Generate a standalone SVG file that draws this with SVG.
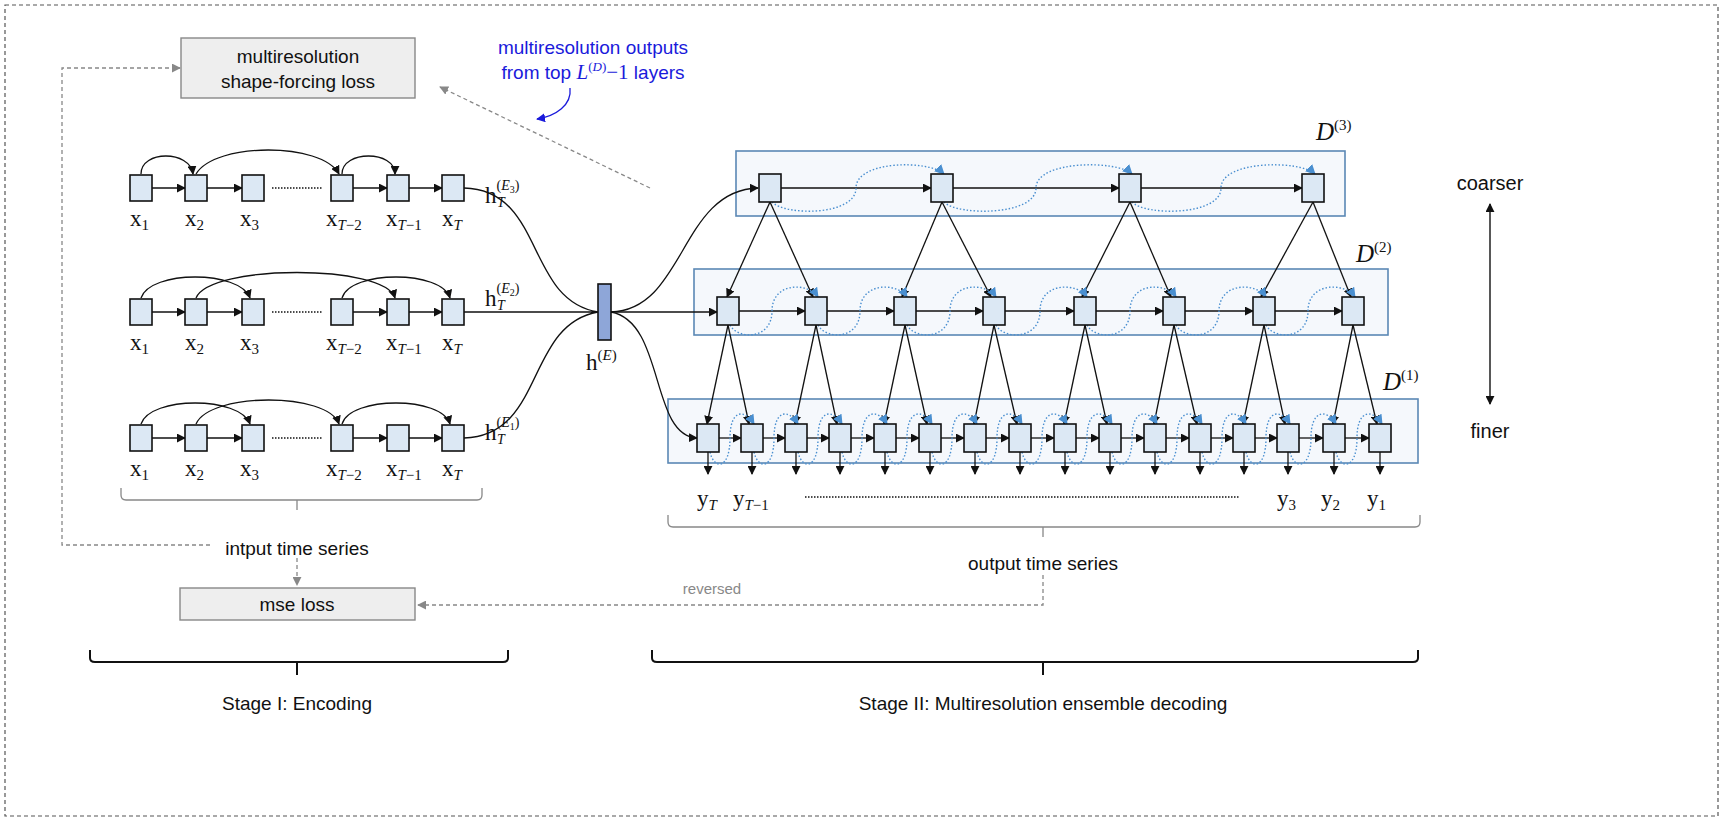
<svg xmlns="http://www.w3.org/2000/svg" width="1724" height="822" viewBox="0 0 1724 822">
<style>
.n{fill:#dce8f4;stroke:#111;stroke-width:1.6}
.c{fill:none;stroke:#111;stroke-width:1.3}
.cb{fill:none;stroke:#4a8fd0;stroke-width:1.4;stroke-dasharray:1.5 2}
.g{fill:none;stroke:#888;stroke-width:1.3;stroke-dasharray:4 3}
.lv{fill:#f5f8fc;stroke:#5b88b5;stroke-width:1.6}
.m{font-family:"Liberation Serif",serif;font-size:23px;fill:#111}
.s{font-family:"Liberation Sans",Arial,sans-serif;font-size:19px;fill:#111}
.sb{font-family:"Liberation Sans",Arial,sans-serif;font-size:19px;fill:#1a1adb}
.br{fill:none;stroke:#888;stroke-width:1.3}
.bk{fill:none;stroke:#111;stroke-width:2}
</style>
<defs>
<marker id="a" viewBox="0 0 10 10" refX="9" refY="5" markerWidth="9" markerHeight="9" markerUnits="userSpaceOnUse" orient="auto-start-reverse"><path d="M0,0L10,5L0,10z" fill="#111"/></marker>
<marker id="ab" viewBox="0 0 10 10" refX="9" refY="5" markerWidth="10" markerHeight="10" markerUnits="userSpaceOnUse" orient="auto"><path d="M0,0L10,5L0,10z" fill="#4a8fd0"/></marker>
<marker id="ag" viewBox="0 0 10 10" refX="9" refY="5" markerWidth="9" markerHeight="9" markerUnits="userSpaceOnUse" orient="auto"><path d="M0,0L10,5L0,10z" fill="#888"/></marker>
<marker id="au" viewBox="0 0 10 10" refX="9" refY="5" markerWidth="9" markerHeight="9" markerUnits="userSpaceOnUse" orient="auto"><path d="M0,0L10,5L0,10z" fill="#1a1adb"/></marker>
</defs>
<rect x="5" y="5" width="1713" height="811" fill="none" stroke="#555" stroke-width="1.2" stroke-dasharray="4 3"/>

<g id="loss1"><rect x="181" y="38" width="234" height="60" fill="#eee" stroke="#888" stroke-width="1.4"/>
<text class="s" x="298" y="63" text-anchor="middle">multiresolution</text>
<text class="s" x="298" y="88" text-anchor="middle">shape-forcing loss</text></g>
<g id="mse"><rect x="180" y="588" width="235" height="32" fill="#eee" stroke="#888" stroke-width="1.4"/>
<text class="s" x="297" y="611" text-anchor="middle">mse loss</text></g>
<g id="note"><text class="sb" x="593" y="54" text-anchor="middle">multiresolution outputs</text>
<text class="sb" x="593" y="79" text-anchor="middle">from top <tspan font-family="Liberation Serif" font-style="italic" font-size="21">L</tspan><tspan font-family="Liberation Serif" font-size="13" dy="-8">(<tspan font-style="italic">D</tspan>)</tspan><tspan font-family="Liberation Serif" font-size="21" dy="8">−1</tspan> layers</text></g>

<g id="levels">
<rect class="lv" x="736" y="151" width="609" height="65"/>
<rect class="lv" x="694" y="269" width="694" height="66"/>
<rect class="lv" x="668" y="399" width="750" height="64"/>
</g>

<g id="connectors">
<g id="enc-conn">
<path class="c" marker-end="url(#a)" d="M152,188H185"/><path class="c" marker-end="url(#a)" d="M207,188H242"/><path class="c" marker-end="url(#a)" d="M353,188H387"/><path class="c" marker-end="url(#a)" d="M409,188H442"/>
<path class="c" marker-end="url(#a)" d="M152,312H185"/><path class="c" marker-end="url(#a)" d="M207,312H242"/><path class="c" marker-end="url(#a)" d="M353,312H387"/><path class="c" marker-end="url(#a)" d="M409,312H442"/>
<path class="c" marker-end="url(#a)" d="M152,438H185"/><path class="c" marker-end="url(#a)" d="M207,438H242"/><path class="c" marker-end="url(#a)" d="M353,438H387"/><path class="c" marker-end="url(#a)" d="M409,438H442"/>
<path class="c" marker-end="url(#a)" d="M141,174C141,150 190,150 193,174"/>
<path class="c" marker-end="url(#a)" d="M196,174C215,142 322,142 339,174"/>
<path class="c" marker-end="url(#a)" d="M342,174C342,150 395,150 395,174"/>
<path class="c" marker-end="url(#a)" d="M141,298C150,270 240,270 250,298"/>
<path class="c" marker-end="url(#a)" d="M196,298C210,264 385,264 395,298"/>
<path class="c" marker-end="url(#a)" d="M342,298C350,270 442,270 450,298"/>
<path class="c" marker-end="url(#a)" d="M141,424C150,396 240,396 250,424"/>
<path class="c" marker-end="url(#a)" d="M196,424C210,392 328,392 339,424"/>
<path class="c" marker-end="url(#a)" d="M342,424C350,396 442,396 450,424"/>
<path d="M272,188H322M272,312H322M272,438H322" stroke="#111" stroke-width="1.6" stroke-dasharray="1.5 1.5"/>
<path class="c" d="M464,188C545,190 525,300 598,312M464,312H598M464,438C545,436 525,325 598,312"/>
<path class="c" marker-end="url(#a)" d="M611,312C685,310 680,190 758,188"/>
<path class="c" marker-end="url(#a)" d="M611,312H717"/>
<path class="c" marker-end="url(#a)" d="M611,312C665,322 650,436 697,438"/>
</g>
<g id="h3">
<path class="c" marker-end="url(#a)" stroke="#444" d="M781,188H931"/><path class="c" marker-end="url(#a)" stroke="#444" d="M953,188H1119"/><path class="c" marker-end="url(#a)" stroke="#444" d="M1141,188H1302"/>
</g>
<g id="h2">
<path class="c" marker-end="url(#a)" d="M739,311H805"/><path class="c" marker-end="url(#a)" d="M827,311H894"/><path class="c" marker-end="url(#a)" d="M916,311H983"/><path class="c" marker-end="url(#a)" d="M1005,311H1074"/><path class="c" marker-end="url(#a)" d="M1096,311H1163"/><path class="c" marker-end="url(#a)" d="M1185,311H1253"/><path class="c" marker-end="url(#a)" d="M1275,311H1342"/>
</g>
<g id="h1">
<path class="c" marker-end="url(#a)" d="M719,438H741"/><path class="c" marker-end="url(#a)" d="M763,438H785"/><path class="c" marker-end="url(#a)" d="M807,438H829"/><path class="c" marker-end="url(#a)" d="M851,438H874"/><path class="c" marker-end="url(#a)" d="M896,438H919"/><path class="c" marker-end="url(#a)" d="M941,438H964"/><path class="c" marker-end="url(#a)" d="M986,438H1009"/><path class="c" marker-end="url(#a)" d="M1031,438H1054"/><path class="c" marker-end="url(#a)" d="M1076,438H1099"/><path class="c" marker-end="url(#a)" d="M1121,438H1144"/><path class="c" marker-end="url(#a)" d="M1166,438H1189"/><path class="c" marker-end="url(#a)" d="M1211,438H1233"/><path class="c" marker-end="url(#a)" d="M1255,438H1277"/><path class="c" marker-end="url(#a)" d="M1299,438H1323"/><path class="c" marker-end="url(#a)" d="M1345,438H1369"/>
</g>
<g id="d32">
<path class="c" marker-end="url(#a)" d="M770,202L727,297"/><path class="c" marker-end="url(#a)" d="M770,202L813,297"/><path class="c" marker-end="url(#a)" d="M942,202L902,297"/><path class="c" marker-end="url(#a)" d="M942,202L991,297"/><path class="c" marker-end="url(#a)" d="M1130,202L1082,297"/><path class="c" marker-end="url(#a)" d="M1130,202L1171,297"/><path class="c" marker-end="url(#a)" d="M1313,202L1261,297"/><path class="c" marker-end="url(#a)" d="M1313,202L1351,297"/>
</g>
<g id="d21">
<path class="c" marker-end="url(#a)" d="M728,325L707,424"/><path class="c" marker-end="url(#a)" d="M728,325L749,424"/><path class="c" marker-end="url(#a)" d="M816,325L795,424"/><path class="c" marker-end="url(#a)" d="M816,325L837,424"/><path class="c" marker-end="url(#a)" d="M905,325L884,424"/><path class="c" marker-end="url(#a)" d="M905,325L927,424"/><path class="c" marker-end="url(#a)" d="M994,325L974,424"/><path class="c" marker-end="url(#a)" d="M994,325L1017,424"/><path class="c" marker-end="url(#a)" d="M1085,325L1064,424"/><path class="c" marker-end="url(#a)" d="M1085,325L1107,424"/><path class="c" marker-end="url(#a)" d="M1174,325L1154,424"/><path class="c" marker-end="url(#a)" d="M1174,325L1197,424"/><path class="c" marker-end="url(#a)" d="M1264,325L1243,424"/><path class="c" marker-end="url(#a)" d="M1264,325L1285,424"/><path class="c" marker-end="url(#a)" d="M1353,325L1333,424"/><path class="c" marker-end="url(#a)" d="M1353,325L1377,424"/>
</g>
<g id="outs">
<path class="c" marker-end="url(#a)" d="M708,452V474"/><path class="c" marker-end="url(#a)" d="M752,452V474"/><path class="c" marker-end="url(#a)" d="M796,452V474"/><path class="c" marker-end="url(#a)" d="M840,452V474"/><path class="c" marker-end="url(#a)" d="M885,452V474"/><path class="c" marker-end="url(#a)" d="M930,452V474"/><path class="c" marker-end="url(#a)" d="M975,452V474"/><path class="c" marker-end="url(#a)" d="M1020,452V474"/><path class="c" marker-end="url(#a)" d="M1065,452V474"/><path class="c" marker-end="url(#a)" d="M1110,452V474"/><path class="c" marker-end="url(#a)" d="M1155,452V474"/><path class="c" marker-end="url(#a)" d="M1200,452V474"/><path class="c" marker-end="url(#a)" d="M1244,452V474"/><path class="c" marker-end="url(#a)" d="M1288,452V474"/><path class="c" marker-end="url(#a)" d="M1334,452V474"/><path class="c" marker-end="url(#a)" d="M1380,452V474"/>
</g>
<g id="bl3">
<path class="cb" marker-end="url(#ab)" d="M772,202C785,216 856,216 856,188C856,160 930,160 944,174"/>
<path class="cb" marker-end="url(#ab)" d="M944,202C957,216 1036,216 1036,188C1036,160 1118,160 1132,174"/>
<path class="cb" marker-end="url(#ab)" d="M1132,202C1145,216 1221,216 1221,188C1221,160 1301,160 1315,174"/>
</g>
<g id="bl2">
<path class="cb" marker-end="url(#ab)" d="M730,325C738,340 772,340 772,311C772,282 808,282 818,297"/>
<path class="cb" marker-end="url(#ab)" d="M818,325C826,340 860,340 860,311C860,282 897,282 907,297"/>
<path class="cb" marker-end="url(#ab)" d="M907,325C915,340 950,340 950,311C950,282 986,282 996,297"/>
<path class="cb" marker-end="url(#ab)" d="M996,325C1004,340 1040,340 1040,311C1040,282 1077,282 1087,297"/>
<path class="cb" marker-end="url(#ab)" d="M1087,325C1095,340 1130,340 1130,311C1130,282 1166,282 1176,297"/>
<path class="cb" marker-end="url(#ab)" d="M1176,325C1184,340 1219,340 1219,311C1219,282 1256,282 1266,297"/>
<path class="cb" marker-end="url(#ab)" d="M1266,325C1274,340 1308,340 1308,311C1308,282 1345,282 1355,297"/>
</g>
<g id="bl1">
<path class="cb" marker-end="url(#ab)" d="M710,452C714,470 730,470 730,438C730,410 744,408 754,424"/>
<path class="cb" marker-end="url(#ab)" d="M754,452C758,470 774,470 774,438C774,410 788,408 798,424"/>
<path class="cb" marker-end="url(#ab)" d="M798,452C802,470 818,470 818,438C818,410 832,408 842,424"/>
<path class="cb" marker-end="url(#ab)" d="M842,452C846,470 862,470 862,438C862,410 877,408 887,424"/>
<path class="cb" marker-end="url(#ab)" d="M887,452C891,470 907,470 907,438C907,410 922,408 932,424"/>
<path class="cb" marker-end="url(#ab)" d="M932,452C936,470 952,470 952,438C952,410 967,408 977,424"/>
<path class="cb" marker-end="url(#ab)" d="M977,452C981,470 997,470 997,438C997,410 1012,408 1022,424"/>
<path class="cb" marker-end="url(#ab)" d="M1022,452C1026,470 1042,470 1042,438C1042,410 1057,408 1067,424"/>
<path class="cb" marker-end="url(#ab)" d="M1067,452C1071,470 1087,470 1087,438C1087,410 1102,408 1112,424"/>
<path class="cb" marker-end="url(#ab)" d="M1112,452C1116,470 1132,470 1132,438C1132,410 1147,408 1157,424"/>
<path class="cb" marker-end="url(#ab)" d="M1157,452C1161,470 1177,470 1177,438C1177,410 1192,408 1202,424"/>
<path class="cb" marker-end="url(#ab)" d="M1202,452C1206,470 1222,470 1222,438C1222,410 1236,408 1246,424"/>
<path class="cb" marker-end="url(#ab)" d="M1246,452C1250,470 1266,470 1266,438C1266,410 1280,408 1290,424"/>
<path class="cb" marker-end="url(#ab)" d="M1290,452C1294,470 1311,470 1311,438C1311,410 1326,408 1336,424"/>
<path class="cb" marker-end="url(#ab)" d="M1336,452C1340,470 1357,470 1357,438C1357,410 1372,408 1382,424"/>
</g>
<path class="g" marker-end="url(#ag)" d="M210,545H62V68H180"/>
<path class="g" marker-end="url(#ag)" d="M297,558V585"/>
<path class="g" marker-end="url(#ag)" d="M1043,575V605H418"/>
<path class="g" marker-end="url(#ag)" d="M650,188L440,87"/>
<path fill="none" stroke="#1a1adb" stroke-width="1.3" marker-end="url(#au)" d="M570,88C572,105 556,116 537,119"/>
<path d="M1490,204V404" stroke="#111" stroke-width="1.4" marker-end="url(#a)" marker-start="url(#a)"/>
</g>

<g id="dec-nodes">
<rect class="n" x="759" y="174" width="22" height="28"/><rect class="n" x="931" y="174" width="22" height="28"/><rect class="n" x="1119" y="174" width="22" height="28"/><rect class="n" x="1302" y="174" width="22" height="28"/>
<rect class="n" x="717" y="297" width="22" height="28"/><rect class="n" x="805" y="297" width="22" height="28"/><rect class="n" x="894" y="297" width="22" height="28"/><rect class="n" x="983" y="297" width="22" height="28"/><rect class="n" x="1074" y="297" width="22" height="28"/><rect class="n" x="1163" y="297" width="22" height="28"/><rect class="n" x="1253" y="297" width="22" height="28"/><rect class="n" x="1342" y="297" width="22" height="28"/>
<rect class="n" x="697" y="424" width="22" height="28"/><rect class="n" x="741" y="424" width="22" height="28"/><rect class="n" x="785" y="424" width="22" height="28"/><rect class="n" x="829" y="424" width="22" height="28"/><rect class="n" x="874" y="424" width="22" height="28"/><rect class="n" x="919" y="424" width="22" height="28"/><rect class="n" x="964" y="424" width="22" height="28"/><rect class="n" x="1009" y="424" width="22" height="28"/><rect class="n" x="1054" y="424" width="22" height="28"/><rect class="n" x="1099" y="424" width="22" height="28"/><rect class="n" x="1144" y="424" width="22" height="28"/><rect class="n" x="1189" y="424" width="22" height="28"/><rect class="n" x="1233" y="424" width="22" height="28"/><rect class="n" x="1277" y="424" width="22" height="28"/><rect class="n" x="1323" y="424" width="22" height="28"/><rect class="n" x="1369" y="424" width="22" height="28"/>
</g>
<g id="enc-nodes">
<rect class="n" x="130" y="175" width="22" height="26"/><rect class="n" x="185" y="175" width="22" height="26"/><rect class="n" x="242" y="175" width="22" height="26"/><rect class="n" x="331" y="175" width="22" height="26"/><rect class="n" x="387" y="175" width="22" height="26"/><rect class="n" x="442" y="175" width="22" height="26"/>
<rect class="n" x="130" y="299" width="22" height="26"/><rect class="n" x="185" y="299" width="22" height="26"/><rect class="n" x="242" y="299" width="22" height="26"/><rect class="n" x="331" y="299" width="22" height="26"/><rect class="n" x="387" y="299" width="22" height="26"/><rect class="n" x="442" y="299" width="22" height="26"/>
<rect class="n" x="130" y="425" width="22" height="26"/><rect class="n" x="185" y="425" width="22" height="26"/><rect class="n" x="242" y="425" width="22" height="26"/><rect class="n" x="331" y="425" width="22" height="26"/><rect class="n" x="387" y="425" width="22" height="26"/><rect class="n" x="442" y="425" width="22" height="26"/>
</g>
<g id="hE"><rect x="598" y="284" width="13" height="56" fill="#8ea6d8" stroke="#111" stroke-width="1.6"/>
<text class="m" x="586" y="370">h<tspan font-size="15" dy="-10">(<tspan font-style="italic">E</tspan>)</tspan></text></g>

<g id="enc-labels">
<g id="lab-r1"><text class="m" x="130" y="226">x<tspan font-size="15" dy="4">1</tspan></text><text class="m" x="185" y="226">x<tspan font-size="15" dy="4">2</tspan></text><text class="m" x="240" y="226">x<tspan font-size="15" dy="4">3</tspan></text><text class="m" x="326" y="226">x<tspan font-size="15" dy="4"><tspan font-style="italic">T</tspan>−2</tspan></text><text class="m" x="386" y="226">x<tspan font-size="15" dy="4"><tspan font-style="italic">T</tspan>−1</tspan></text><text class="m" x="442" y="226">x<tspan font-size="15" dy="4" font-style="italic">T</tspan></text></g>
<g id="lab-r2"><text class="m" x="130" y="350">x<tspan font-size="15" dy="4">1</tspan></text><text class="m" x="185" y="350">x<tspan font-size="15" dy="4">2</tspan></text><text class="m" x="240" y="350">x<tspan font-size="15" dy="4">3</tspan></text><text class="m" x="326" y="350">x<tspan font-size="15" dy="4"><tspan font-style="italic">T</tspan>−2</tspan></text><text class="m" x="386" y="350">x<tspan font-size="15" dy="4"><tspan font-style="italic">T</tspan>−1</tspan></text><text class="m" x="442" y="350">x<tspan font-size="15" dy="4" font-style="italic">T</tspan></text></g>
<g id="lab-r3"><text class="m" x="130" y="476">x<tspan font-size="15" dy="4">1</tspan></text><text class="m" x="185" y="476">x<tspan font-size="15" dy="4">2</tspan></text><text class="m" x="240" y="476">x<tspan font-size="15" dy="4">3</tspan></text><text class="m" x="326" y="476">x<tspan font-size="15" dy="4"><tspan font-style="italic">T</tspan>−2</tspan></text><text class="m" x="386" y="476">x<tspan font-size="15" dy="4"><tspan font-style="italic">T</tspan>−1</tspan></text><text class="m" x="442" y="476">x<tspan font-size="15" dy="4" font-style="italic">T</tspan></text></g>
<text class="m" x="485" y="203">h<tspan font-size="14" dy="-13">(<tspan font-style="italic">E</tspan><tspan font-size="10" dy="3">3</tspan><tspan dy="-3">)</tspan></tspan><tspan font-size="14" font-style="italic" x="497" dy="17">T</tspan></text>
<text class="m" x="485" y="306">h<tspan font-size="14" dy="-13">(<tspan font-style="italic">E</tspan><tspan font-size="10" dy="3">2</tspan><tspan dy="-3">)</tspan></tspan><tspan font-size="14" font-style="italic" x="497" dy="17">T</tspan></text>
<text class="m" x="485" y="440">h<tspan font-size="14" dy="-13">(<tspan font-style="italic">E</tspan><tspan font-size="10" dy="3">1</tspan><tspan dy="-3">)</tspan></tspan><tspan font-size="14" font-style="italic" x="497" dy="17">T</tspan></text>
</g>

<g id="dec-labels">
<text class="m" x="1316" y="140" style="font-style:italic;font-size:25px">D<tspan font-size="15" font-style="normal" dy="-10">(3)</tspan></text>
<text class="m" x="1356" y="262" style="font-style:italic;font-size:25px">D<tspan font-size="15" font-style="normal" dy="-10">(2)</tspan></text>
<text class="m" x="1383" y="390" style="font-style:italic;font-size:25px">D<tspan font-size="15" font-style="normal" dy="-10">(1)</tspan></text>
<text class="m" x="697" y="506">y<tspan font-size="15" dy="4" font-style="italic">T</tspan></text>
<text class="m" x="733" y="506">y<tspan font-size="15" dy="4"><tspan font-style="italic">T</tspan>−1</tspan></text>
<path d="M805,497H1240" stroke="#111" stroke-width="1.6" stroke-dasharray="1.5 1.5"/>
<text class="m" x="1277" y="506">y<tspan font-size="15" dy="4">3</tspan></text>
<text class="m" x="1321" y="506">y<tspan font-size="15" dy="4">2</tspan></text>
<text class="m" x="1367" y="506">y<tspan font-size="15" dy="4">1</tspan></text>
<text class="s" x="1490" y="190" text-anchor="middle" style="font-size:20px">coarser</text>
<text class="s" x="1490" y="438" text-anchor="middle" style="font-size:20px">finer</text>
</g>

<g id="braces">
<path class="br" d="M121,488V495Q121,500 126,500H477Q482,500 482,495V488M297,500V510"/>
<path class="br" d="M668,515V522Q668,527 673,527H1415Q1420,527 1420,522V515M1043,527V537"/>
<path class="bk" d="M90,650V658Q90,662 95,662H503Q508,662 508,658V650M297,662V675"/>
<path class="bk" d="M652,650V658Q652,662 657,662H1413Q1418,662 1418,658V650M1043,662V675"/>
</g>
<g id="texts">
<text class="s" x="297" y="555" text-anchor="middle">intput time series</text>
<text class="s" x="1043" y="570" text-anchor="middle">output time series</text>
<text class="s" x="712" y="594" text-anchor="middle" style="font-size:15px;fill:#888">reversed</text>
<text class="s" x="297" y="710" text-anchor="middle">Stage I: Encoding</text>
<text class="s" x="1043" y="710" text-anchor="middle">Stage II: Multiresolution ensemble decoding</text>
</g>
</svg>
